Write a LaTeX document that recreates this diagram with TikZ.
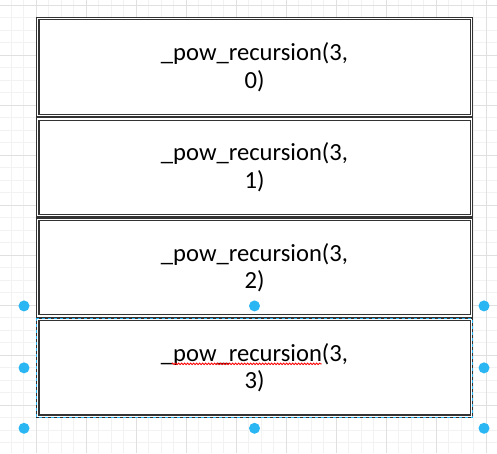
\documentclass[tikz,border=0pt]{standalone}
\usepackage{fontspec}
\setmainfont{Carlito}
\usetikzlibrary{positioning,decorations.pathmorphing}
\definecolor{handleblue}{HTML}{29B6F2}
\definecolor{gridminor}{HTML}{F2F2F2}
\definecolor{gridmajor}{HTML}{E0E0E0}
\begin{document}
\begin{tikzpicture}[x=1pt, y=-1pt,
		callbox/.style={draw=black!80, double=white, double distance=1.3pt, line width=1.15pt, fill=white,
			minimum width=433.6pt, minimum height=96.85pt, inner sep=0pt, outer sep=0pt,
			align=center, font=\fontsize{24.6}{27.5}\selectfont},
		handle/.style={circle, fill=handleblue, inner sep=0pt, minimum size=11pt}]
	\useasboundingbox (0,0) rectangle (497,453);
	\fill[white] (0,0) rectangle (497,453);
	\foreach \x in {-1.5,11,...,497} \draw[gridminor, line width=1pt] (\x,0) -- (\x,453);
	\foreach \y in {5,17.5,...,453} \draw[gridminor, line width=1pt] (0,\y) -- (497,\y);
	\foreach \x in {36,86,...,497} \draw[gridmajor, line width=1pt] (\x,0) -- (\x,453);
	\foreach \y in {5,55,...,453} \draw[gridmajor, line width=1pt] (0,\y) -- (497,\y);

	\node[callbox] (call0) at (254.5, 67.1) {\_pow\_recursion(3,\\0)};
	\node[callbox, below=3.4pt of call0] (call1) {\_pow\_recursion(3,\\1)};
	\node[callbox, below=3.4pt of call1] (call2) {\_pow\_recursion(3,\\2)};
	\node[callbox, below=3.4pt of call2] (call3) {\_pow\_recursion(3,\\3)};

	\draw[red, line width=0.8pt, decorate, decoration={snake, segment length=3pt, amplitude=0.8pt}]
		([shift={(-82.8,-4)}]call3.center) -- ([shift={(67.2,-4)}]call3.center);
	\draw[handleblue, line width=1pt, dash pattern=on 3pt off 3pt]
		([shift={(-1.2,-1.2)}]call3.north west) rectangle ([shift={(1.2,1.2)}]call3.south east);
	\foreach \a/\dx/\dy [count=\i] in {north west/-13.7/-13.5, north/0/-13.5, north east/12.7/-13.5,
			west/-13.7/0, east/12.7/0, south west/-13.7/12, south/0/12, south east/12.7/12}
		\node[handle] (handle\i) at ([shift={(\dx,\dy)}]call3.\a) {};
\end{tikzpicture}
\end{document}
